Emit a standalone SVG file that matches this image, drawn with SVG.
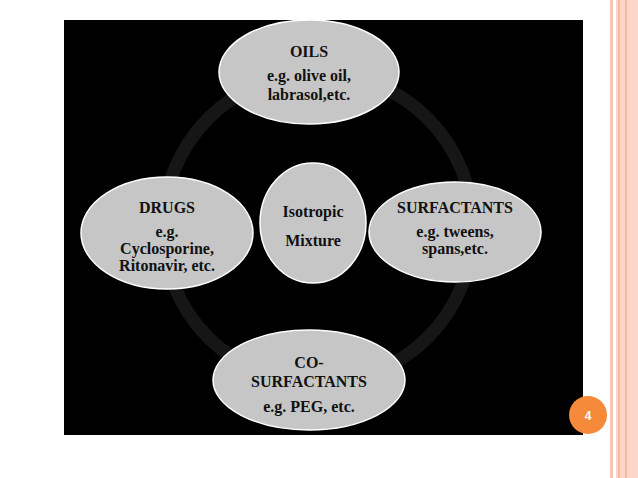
<svg xmlns="http://www.w3.org/2000/svg" width="638" height="478" viewBox="0 0 638 478">
<style>
.n{fill:#c6c6c6;stroke:#fff;stroke-width:1.5}
text{font-family:"Liberation Serif",serif;font-weight:bold;font-size:16px;fill:#111;text-anchor:middle}
</style>
<rect width="638" height="478" fill="#fff"/>
<rect x="610" y="0" width="3" height="478" fill="#f7c4b3"/>
<rect x="616" y="0" width="22" height="478" fill="#fcd6c8"/>
<rect x="618" y="0" width="2" height="478" fill="#f6b9a5"/>
<rect x="625" y="0" width="2" height="478" fill="#f6b9a5"/>
<rect x="64" y="20" width="519" height="415" fill="#000"/>
<g id="connectors"><circle cx="318" cy="228" r="155" fill="none" stroke="#161616" stroke-width="13"/></g>
<g id="oils"><ellipse class="n" cx="309" cy="72" rx="90" ry="52"/><text x="309" y="57">OILS</text><text x="309" y="81" font-size="17">e.g. olive oil,</text><text x="309" y="100" font-size="17">labrasol,etc.</text></g>
<g id="drugs"><ellipse class="n" cx="167" cy="233" rx="86" ry="56"/><text x="167" y="213">DRUGS</text><text x="167" y="237">e.g.</text><text x="167" y="254">Cyclosporine,</text><text x="167" y="271">Ritonavir, etc.</text></g>
<g id="surf"><ellipse class="n" cx="455" cy="232" rx="86" ry="50"/><text x="455" y="213" font-size="15">SURFACTANTS</text><text x="455" y="237">e.g. tweens,</text><text x="455" y="254">spans,etc.</text></g>
<g id="cosurf"><ellipse class="n" cx="309" cy="380" rx="96" ry="50"/><text x="309" y="368">CO-</text><text x="309" y="387">SURFACTANTS</text><text x="309" y="412">e.g. PEG, etc.</text></g>
<g id="center"><ellipse class="n" cx="313" cy="223" rx="53" ry="60"/><text x="313" y="217" font-size="17">Isotropic</text><text x="313" y="246" font-size="17">Mixture</text></g>
<g id="page"><circle cx="588" cy="415" r="19" fill="#f58a3a"/><text x="588" y="420" style="fill:#fff;font-family:'Liberation Sans',sans-serif;font-size:12px">4</text></g>
</svg>
